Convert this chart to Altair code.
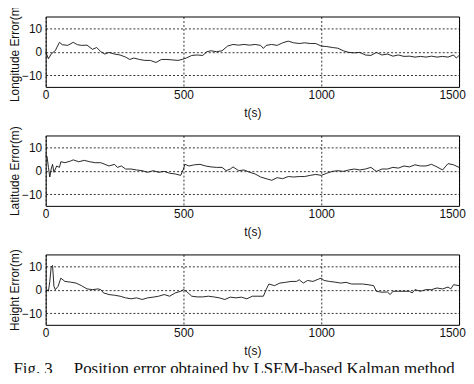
import altair as alt
import pandas as pd

# Longitude error (m)
lon_t = [0, 10, 20, 35, 50, 60, 80, 100, 115, 130, 150, 170, 185, 200, 215, 230, 250, 270, 290, 305,
         320, 340, 360, 380, 400, 420, 440, 460, 480, 495, 510, 530, 550, 570, 585, 600, 620, 640, 660,
         680, 700, 720, 740, 760, 780, 790, 800, 820, 840, 860, 880, 900, 920, 940, 960, 980, 1000,
         1020, 1040, 1060, 1080, 1100, 1120, 1140, 1160, 1180, 1200, 1220, 1240, 1260, 1280, 1300,
         1320, 1340, 1360, 1380, 1400, 1420, 1440, 1460, 1480, 1490, 1500]
lon_v = [0, -3, -1, 0.5, 4, 3, 2.7, 4, 3, 2.7, 2.8, 1, 1.8, 0, -1, -0.3, -1, -1.4, -2.3, -3.3,
         -2.7, -3.3, -3.7, -3.7, -4.6, -3.3, -3.3, -3.5, -3.7, -3.3, -2.7, -1.6, -1.4, -1.6, 0, 0.4, 0, 0.4, 2.4,
         3.1, 2.8, 3.1, 2.8, 3.1, 2.7, 1.4, 2.7, 3.1, 2.7, 3.8, 4.5, 3.8, 3.5, 3.8, 3.5, 3.5, 2.4,
         2.2, 1.8, 1.5, 0.4, -0.3, -0.5, -0.3, -1.4, -1.6, -0.3, -1.4, -1, -1.9, -1.4, -2,
         -1.9, -2.3, -2, -2.3, -1.9, -2.3, -2, -2.3, -1.4, -2.7, -1.6]

# Latitude error (m)
lat_t = [0, 5, 10, 15, 20, 25, 30, 40, 50, 55, 70, 90, 100, 120, 140, 160, 180, 200, 215, 230, 250,
         260, 275, 290, 310, 330, 350, 370, 390, 410, 430, 450, 470, 490, 500, 505, 520, 540, 560, 580,
         600, 620, 640, 655, 670, 680, 700, 720, 740, 760, 780, 800, 820, 840, 860, 880, 900, 920, 940,
         960, 980, 1000, 1020, 1040, 1060, 1080, 1100, 1120, 1140, 1160, 1180, 1200, 1220, 1240, 1260,
         1280, 1300, 1320, 1340, 1360, 1380, 1400, 1420, 1440, 1460, 1480, 1500]
lat_v = [6.8, 6, 1.4, -2.7, 0.7, 2.7, -0.7, 2, 1.4, 3.8, 3.4, 4.1, 4.6, 3.8, 4.4, 3.8, 3.4, 3.4, 2.7, 2, 2.7,
         1.4, 2, 0.7, 0.7, 0.3, 0, -0.7, 0, -0.7, -0.3, -1.1, -1.4, -2, 0.7, 2.7, 2, 2.5, 2.7, 2,
         1.6, 1.4, 1.4, 0, 0.7, 1.6, 0, 0.3, -0.7, -1.4, -2.7, -3.4, -4.1, -3, -3.4, -2.5, -2.7, -2.5, -2.5,
         -2, -1.6, -2, -1.1, -0.3, 0, -0.3, 0.3, 0.7, 0.3, 0.7, 1.4, -0.3, 0.7, 0.7, 1.4,
         1.1, 2, 1.6, 2.5, 2, 2, 2.7, 1.6, 0.3, 3, 2.5, 1.4]

# Height error (m)
hgt_t = [0, 5, 10, 15, 20, 25, 30, 35, 45, 55, 70, 90, 110, 130, 150, 170, 190, 200, 210, 230, 250,
         270, 290, 310, 330, 350, 370, 390, 410, 430, 450, 470, 490, 500, 510, 530, 550, 570, 590, 610,
         630, 650, 670, 690, 710, 730, 750, 770, 790, 800, 810, 830, 850, 870, 890, 910, 920, 935, 950,
         970, 990, 1000, 1010, 1030, 1050, 1070, 1090, 1110, 1130, 1150, 1170, 1190, 1200, 1220, 1240,
         1250, 1260, 1280, 1300, 1320, 1330, 1340, 1360, 1380, 1400, 1420, 1440, 1460, 1470, 1480, 1500]
hgt_v = [-0.7, 0, -0.7, 3.5, 9.6, 10.3, 1.4, 0, 1.4, 4.9, 3.5, 3.2, 2.8, 1.7, 0.3, 0, 0.3, 0, -1.4, -2.1, -2.4,
         -2.8, -3.5, -3.9, -3.5, -4.2, -3.5, -3.2, -2.8, -2.1, -2.8, -1.4, -0.7, 0, -0.7, -2.8, -3.1, -3.1, -2.8, -3.1,
         -3.5, -4.2, -3.2, -3.5, -3.2, -3.9, -2.8, -2.8, -2.8, 0, 2.4, 1.7, 2.8, 3.1, 3.5, 3.5, 4.2, 2.8, 3.9,
         3.5, 4.5, 4.9, 3.9, 3.5, 3.2, 2.8, 3.1, 2.4, 2.4, 2.4, 2.1, 1.7, -0.7, -1.1, -1,
         -2.1, -0.7, -0.7, -0.7, -0.7, -1.4, 0, -0.7, 0, 0, 0.7, 0.3, 1.1, 0.3, 2.1, 1.7]

x_ticks = [0, 500, 1000, 1500]
y_ticks = [-10, 0, 10]
caption = ["Fig.\u00a03\u00a0\u00a0\u00a0\u00a0\u00a0Position error obtained by LSEM-based Kalman method"]

FONT = "Liberation Sans"


def panel(ts, vs, ytitle):
    df = pd.DataFrame({"t": ts, "v": vs})
    return alt.Chart(df).mark_line(color="#111111", strokeWidth=0.9).encode(
        x=alt.X("t:Q", scale=alt.Scale(domain=[0, 1500], nice=False),
                axis=alt.Axis(values=x_ticks, title="t(s)", format="d",
                              labelOffset={"condition": {"test": "datum.value == 1500", "value": -7},
                                           "value": 0})),
        y=alt.Y("v:Q", scale=alt.Scale(domain=[-15, 15], nice=False),
                axis=alt.Axis(values=y_ticks, title=ytitle, format="d")),
    ).properties(width=417, height=71)


cap = alt.Chart(pd.DataFrame({"c": caption})).mark_text(
    font="Liberation Serif", fontSize=17, color="#111111", align="center", baseline="top"
).encode(text="c:N", x=alt.value(190), y=alt.value(108))

bottom = alt.layer(panel(hgt_t, hgt_v, "Height Error(m)"), cap)

chart = alt.vconcat(
    panel(lon_t, lon_v, "Longitude Error(m)"),
    panel(lat_t, lat_v, "Latitude Error(m)"),
    bottom,
    spacing=49,
    bounds="flush",
).properties(
    padding={"top": -9, "left": 0, "right": 0, "bottom": -7},
).configure_view(
    stroke="black", strokeWidth=1
).configure_axis(
    labelFont=FONT, titleFont=FONT, labelFontSize=12, titleFontSize=12,
    titleFontWeight="normal", labelColor="#111111", titleColor="#111111",
    domain=False, ticks=False, tickSize=0, labelPadding=3,
    grid=True, gridColor="black", gridDash=[2, 2], gridWidth=0.8, gridOpacity=1,
).configure_axisX(
    titlePadding=7, labelFlush=False,
).configure_axisY(
    titlePadding=0, labelPadding=4,
)

chart.save("out.html", embed_options={"renderer": "svg", "actions": False})
